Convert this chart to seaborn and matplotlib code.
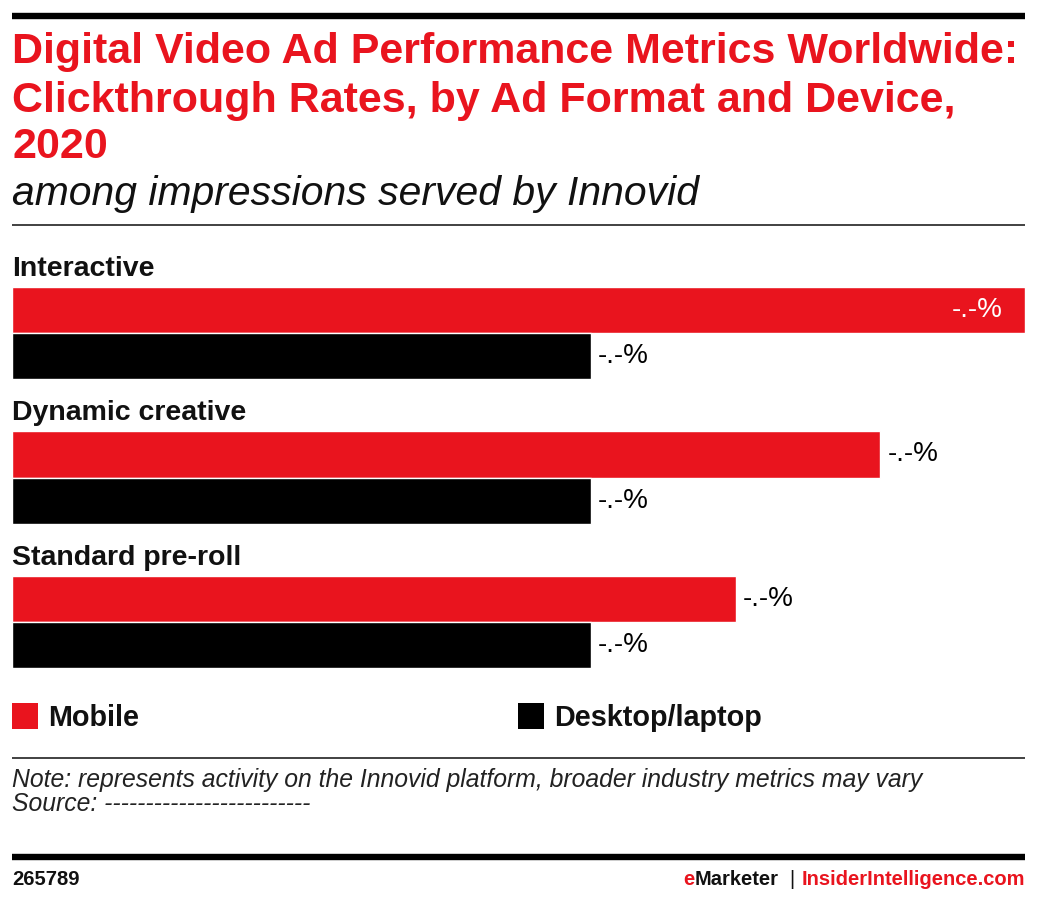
import matplotlib
matplotlib.use("Agg")
import matplotlib.pyplot as plt
from matplotlib.patches import Rectangle
from matplotlib.lines import Line2D
import seaborn as sns
import pandas as pd

# ---- data ----
formats = ["Interactive", "Dynamic creative", "Standard pre-roll"]
devices = ["Mobile", "Desktop/laptop"]
mobile_ctr = [0.7, 0.6, 0.5]
desktop_ctr = [0.4, 0.4, 0.4]
value_labels = ["-.-%", "-.-%", "-.-%"]

RED = "#E9141E"
BLACK = "#000000"

df = pd.DataFrame({
    "format": formats * 2,
    "device": [devices[0]] * 3 + [devices[1]] * 3,
    "ctr": mobile_ctr + desktop_ctr,
})

sns.set_theme(style="white")
plt.rcParams["font.family"] = ["Liberation Sans", "DejaVu Sans"]

W, H = 1038, 902
fig = plt.figure(figsize=(W / 100, H / 100), dpi=100)

def fx(px):
    return px / W

def fy(py):
    return 1 - py / H

# bars axes
ax_left, ax_right, ax_top, ax_bot = 12, 1025, 287, 668
ax = fig.add_axes([fx(ax_left), fy(ax_bot), fx(ax_right - ax_left), (ax_bot - ax_top) / H])
GW = 0.641
sns.barplot(data=df, y="format", x="ctr", hue="device", orient="h",
            palette=[RED, BLACK], width=GW, dodge=True, legend=False,
            saturation=1, ax=ax, order=formats, hue_order=devices)
ax.set_xlim(0, max(mobile_ctr))
ax.set_ylim(len(formats) - 1 + GW / 2, -GW / 2)
ax.axis("off")

# category labels above groups
px_per_unit = (ax_bot - ax_top) / (len(formats) - 1 + GW)
for i, name in enumerate(formats):
    ax.text(0, i - GW / 2 - 11 / px_per_unit, name, ha="left", va="baseline",
            fontsize=20.5, fontweight="bold", color="#111111", clip_on=False)

# value labels
xmax = max(mobile_ctr)
LFS = 20
for i in range(len(formats)):
    ym = i - GW / 4
    yd = i + GW / 4
    vm = mobile_ctr[i]
    if vm >= xmax * 0.95:
        ax.annotate(value_labels[i], (vm, ym), xytext=(-22, 0), textcoords="offset pixels",
                    ha="right", va="center", fontsize=LFS, color="white", clip_on=False)
    else:
        ax.annotate(value_labels[i], (vm, ym), xytext=(7, 0), textcoords="offset pixels",
                    ha="left", va="center", fontsize=LFS, color=BLACK, clip_on=False)
    ax.annotate(value_labels[i], (desktop_ctr[i], yd), xytext=(7, 0), textcoords="offset pixels",
                ha="left", va="center", fontsize=LFS, color=BLACK, clip_on=False)

# rules
def hline(py, lw, color="#000000"):
    fig.add_artist(Line2D([fx(12), fx(1025)], [fy(py), fy(py)], lw=lw, color=color,
                          transform=fig.transFigure, solid_capstyle="butt"))

hline(16, 4.6)
hline(225, 1.3, "#333333")
hline(758, 1.3, "#333333")
hline(857, 4.6)

# title
title_lines = ["Digital Video Ad Performance Metrics Worldwide:",
               "Clickthrough Rates, by Ad Format and Device,",
               "2020"]
for line, base in zip(title_lines, [63, 112, 158]):
    fig.text(fx(12), fy(base), line, ha="left", va="baseline", fontsize=31,
             fontweight="bold", color=RED)
fig.text(fx(12), fy(205), "among impressions served by Innovid", ha="left", va="baseline",
         fontsize=29.4, fontstyle="italic", color="#111111")

# legend
for x0, dev, col in [(12, devices[0], RED), (518, devices[1], BLACK)]:
    fig.add_artist(Rectangle((fx(x0), fy(729)), fx(26), 26 / H, transform=fig.transFigure,
                             facecolor=col, edgecolor="none"))
    fig.text(fx(x0 + 36), fy(726), dev, ha="left", va="baseline", fontsize=20.7,
             fontweight="bold", color="#111111")

# notes
fig.text(fx(12), fy(787), "Note: represents activity on the Innovid platform, broader industry metrics may vary",
         ha="left", va="baseline", fontsize=17.8, fontstyle="italic", color="#222222")
fig.text(fx(12), fy(811), "Source: -------------------------",
         ha="left", va="baseline", fontsize=17.8, fontstyle="italic", color="#222222")

# footer
FFS = 14.5
fig.text(fx(12), fy(885), "265789", ha="left", va="baseline", fontsize=FFS,
         fontweight="bold", color="#111111")
fig.text(fx(1025), fy(885), "InsiderIntelligence.com", ha="right", va="baseline",
         fontsize=FFS, fontweight="bold", color=RED)
fig.text(fx(792), fy(885), "|", ha="center", va="baseline", fontsize=FFS,
         color="#111111")
mk = fig.text(fx(779), fy(885), "Marketer", ha="right", va="baseline", fontsize=FFS,
              fontweight="bold", color="#111111")
r = fig.canvas.get_renderer()
bb = mk.get_window_extent(renderer=r)
fig.text(bb.x0 / W, fy(885), "e", ha="right", va="baseline", fontsize=FFS,
         fontweight="bold", color=RED)

fig.savefig("out.png", dpi=100, facecolor="white")
